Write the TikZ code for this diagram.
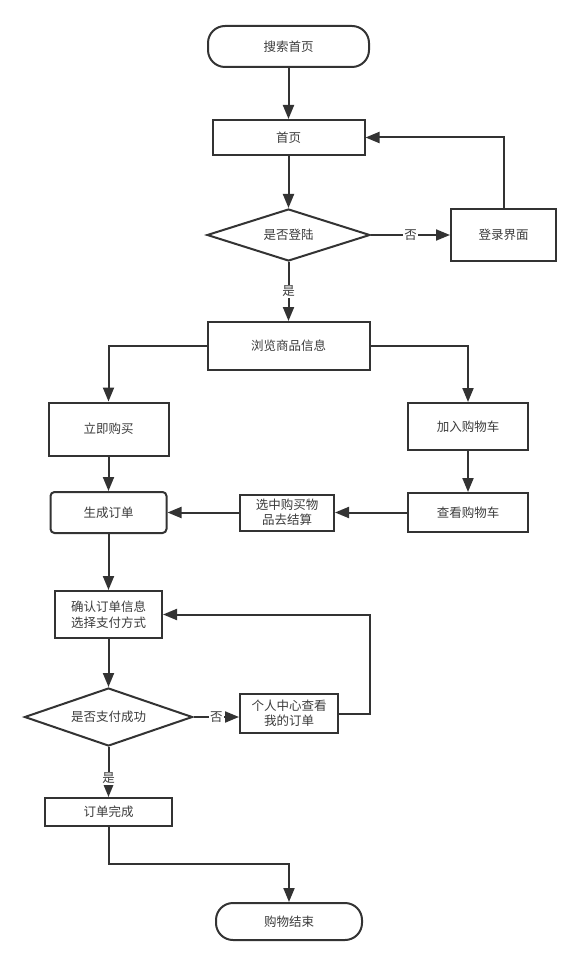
\documentclass[tikz,border=0pt]{standalone}
\usepackage{fontspec}
\setmainfont{Noto Sans CJK SC}
\usetikzlibrary{arrows.meta,shapes.geometric}
\definecolor{ln}{HTML}{333333}
\definecolor{txt}{HTML}{3C3C3C}
\begin{document}
\begin{tikzpicture}[x=1pt,y=-1pt,
  every node/.style={font=\fontsize{12.5}{15}\selectfont, text=txt},
  box/.style={draw=ln, line width=2pt, rectangle, inner sep=0pt, align=center, fill=white},
  term/.style={box, rounded corners=17pt},
  dia/.style={draw=ln, line width=2pt, diamond, aspect=3.1, inner sep=0pt, fill=white},
  arr/.style={draw=ln, line width=2pt, -{Triangle[length=14pt,width=11pt]}},
  lbl/.style={fill=white, inner sep=1pt}]
\useasboundingbox (0,0) rectangle (582,965);

\node[term, minimum width=161pt, minimum height=41pt] (start) at (288.5,46.5) {搜索首页};
\node[box, minimum width=152pt, minimum height=35pt] (home) at (288.5,137.5) {首页};
\node[dia, minimum width=163pt, minimum height=52pt] (login) at (288.5,235) {是否登陆};
\node[box, minimum width=105pt, minimum height=52pt] (loginpage) at (503.5,235) {登录界面};
\node[box, minimum width=162pt, minimum height=48pt] (browse) at (288.5,346) {浏览商品信息};
\node[box, minimum width=120pt, minimum height=53pt] (buy) at (108.5,429) {立即购买};
\node[box, minimum width=120pt, minimum height=47pt] (cart) at (468,426.5) {加入购物车};
\node[box, rounded corners=4pt, minimum width=116pt, minimum height=41pt] (gen) at (108.5,512.5) {生成订单};
\node[box, minimum width=94pt, minimum height=36pt, font=\fontsize{12.5}{15}\selectfont] (sel) at (287,512.5) {选中购买物\\品去结算};
\node[box, minimum width=120pt, minimum height=39pt] (view) at (468,512.5) {查看购物车};
\node[box, minimum width=107pt, minimum height=47pt, font=\fontsize{12.5}{16}\selectfont] (confirm) at (108.5,614.5) {确认订单信息\\选择支付方式};
\node[dia, minimum width=168pt, minimum height=58pt] (pay) at (108.5,717) {是否支付成功};
\node[box, minimum width=98pt, minimum height=39pt, font=\fontsize{12.5}{15}\selectfont] (center) at (289,713.5) {个人中心查看\\我的订单};
\node[box, minimum width=127pt, minimum height=28pt] (done) at (108.5,812) {订单完成};
\node[term, minimum width=146pt, minimum height=37pt] (end) at (289,921.5) {购物结束};

\draw[arr] (start) -- (home);
\draw[arr] (home) -- (login);
\draw[arr] (login.east) -- node[lbl] {否} (loginpage.west);
\draw[arr] (loginpage.north) |- (home.east);
\draw[arr] (login.south) -- node[lbl] {是} (browse.north);
\draw[arr] (browse.west) -| (buy.north);
\draw[arr] (browse.east) -| (cart.north);
\draw[arr] (buy) -- (gen);
\draw[arr] (cart) -- (view);
\draw[arr] (view.west) -- (sel.east);
\draw[arr] (sel.west) -- (gen.east);
\draw[arr] (gen.south) -- (confirm.north);
\draw[arr] (confirm.south) -- (pay.north);
\draw[arr] (pay.east) -- node[lbl] {否} (pay.east -| center.west);
\draw[arr] (center.east) -- ++(31,0) |- (confirm.east);
\draw[arr] (pay.south) -- node[lbl, pos=0.62] {是} (done.north);
\draw[arr] (done.south) -- ++(0,37) -| (end.north);
\end{tikzpicture}
\end{document}
